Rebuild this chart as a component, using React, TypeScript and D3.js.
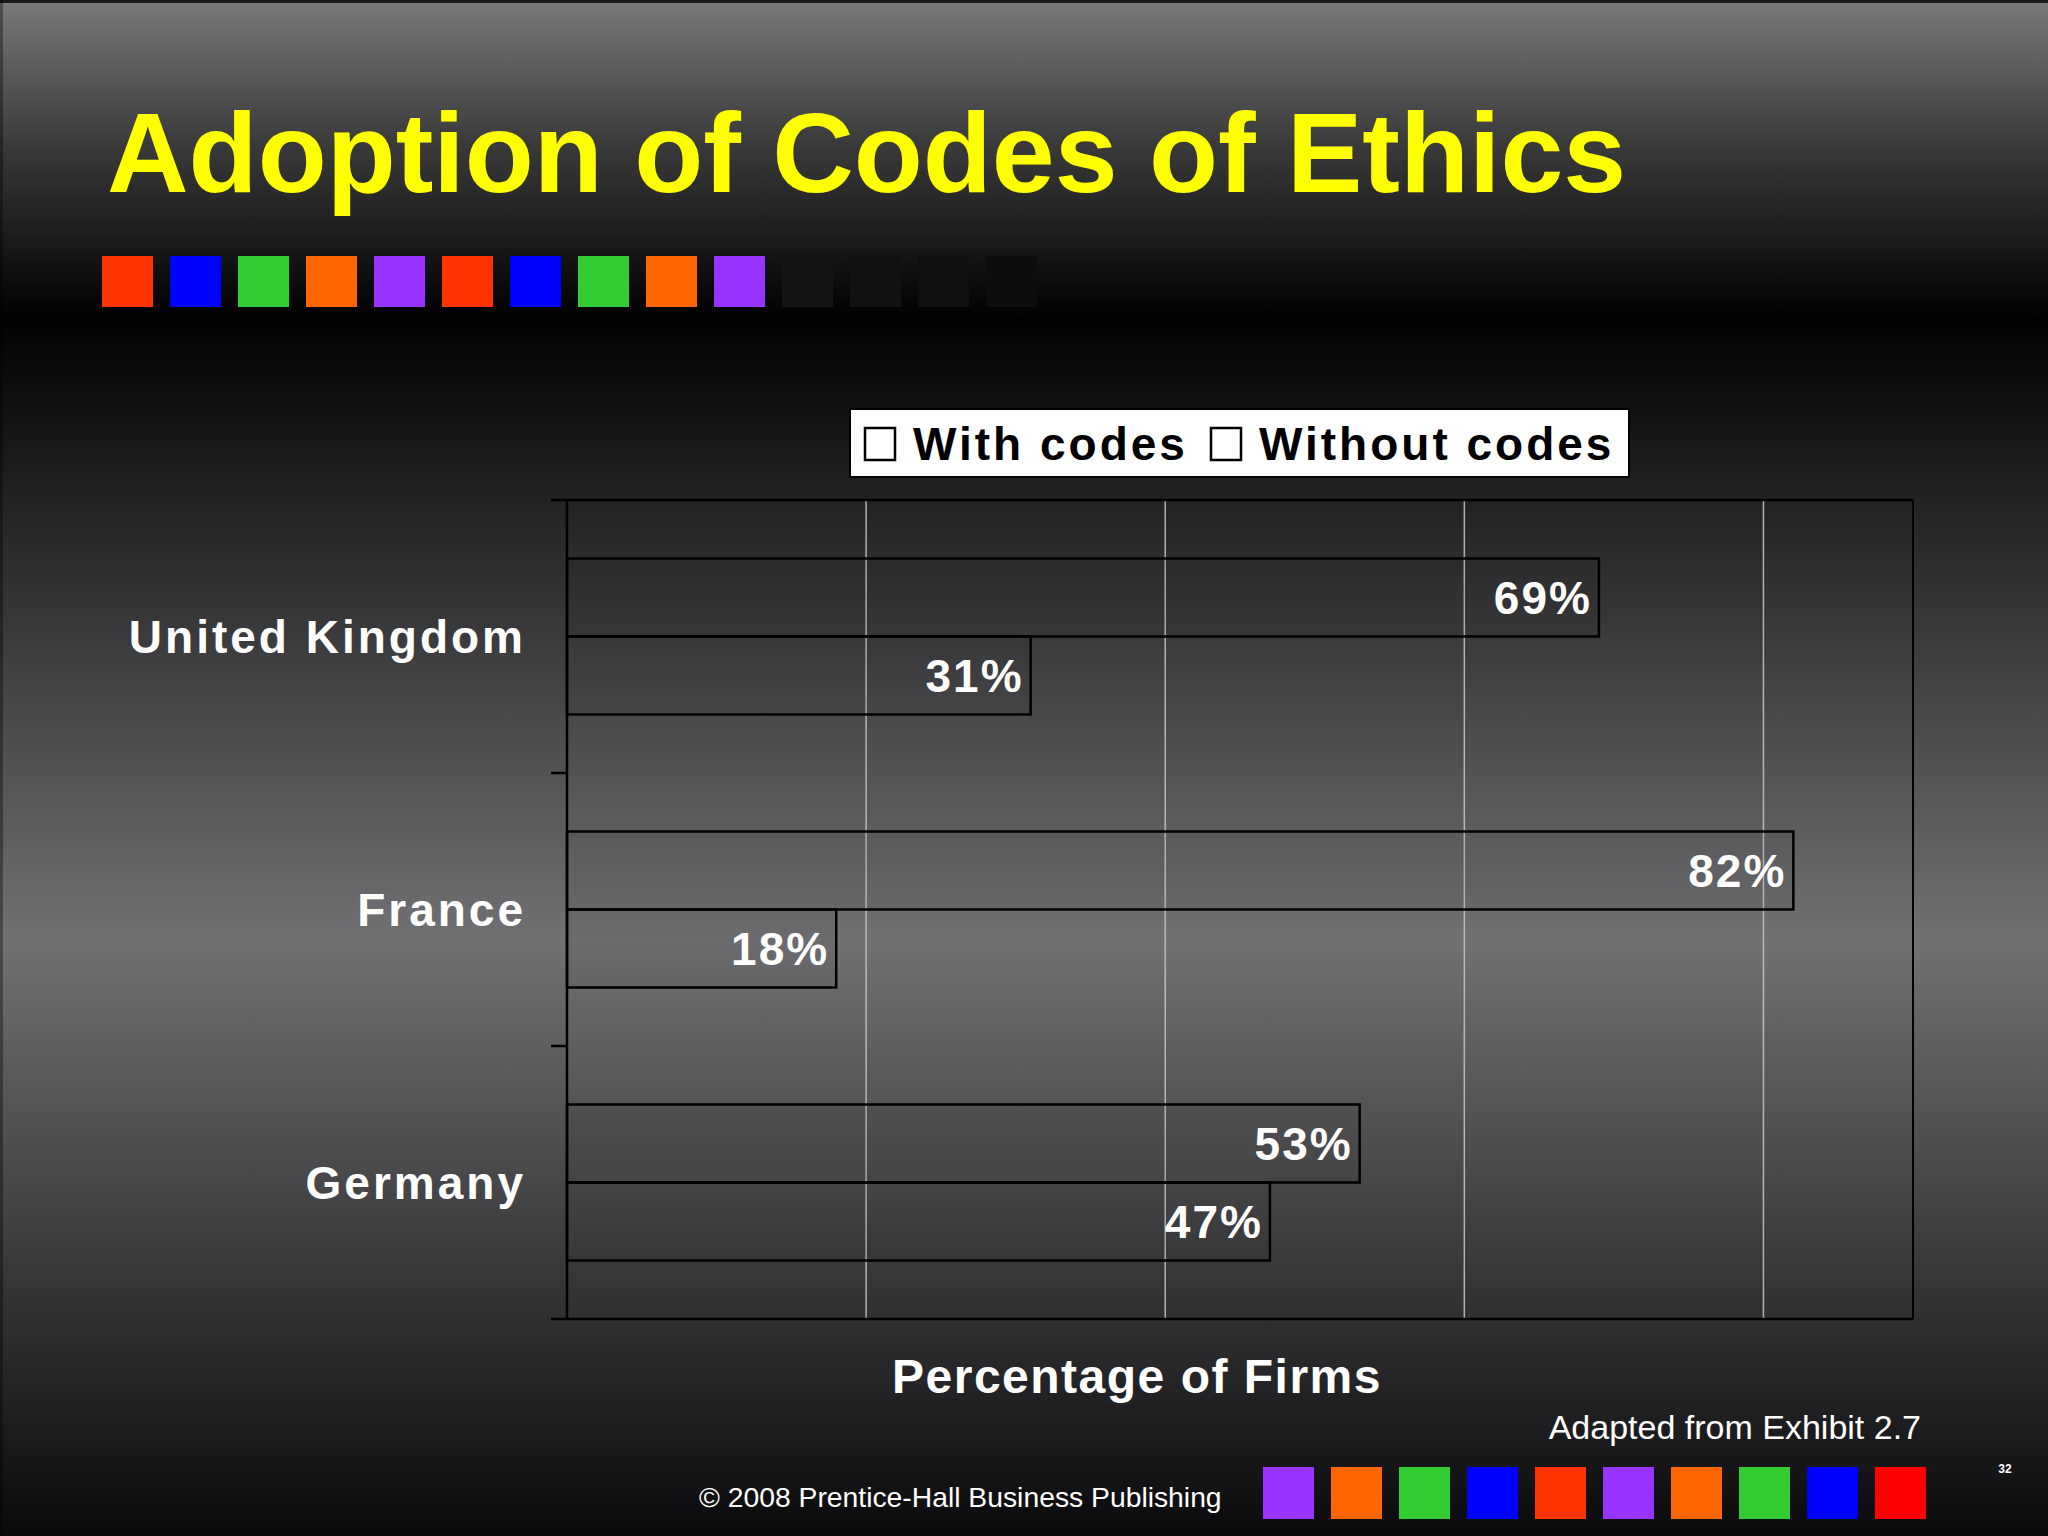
import * as d3 from 'd3'

const categories = ['United Kingdom', 'France', 'Germany']
const seriesNames = ['With codes', 'Without codes']
const withCodes = [69, 82, 53]
const withoutCodes = [31, 18, 47]
const gridTicks = [20, 40, 60, 80]
const xMax = 90

const topSquares = ['#FF3300', '#0000FF', '#33CC33', '#FF6600', '#9933FF', '#FF3300', '#0000FF', '#33CC33', '#FF6600', '#9933FF', '#151515', '#121212', '#101010', '#0d0d0d']
const bottomSquares = ['#9933FF', '#FF6600', '#33CC33', '#0000FF', '#FF3300', '#9933FF', '#FF6600', '#33CC33', '#0000FF', '#FF0000']

const W = 2048
const H = 1536
const font = '"Liberation Sans", Arial, Helvetica, sans-serif'

const App = () => {
    // plot frame
    const left = 567, right = 1913, top = 500, bottom = 1319

    const x = d3.scaleLinear().domain([0, xMax]).range([left, right])
    const y = d3.scaleBand().domain(categories).range([top, bottom])
    const inner = d3.scaleBand().domain(seriesNames).range([0, y.bandwidth()]).paddingInner(0).paddingOuter(0.75)

    const rows = categories.map((c, i) => ({ cat: c, vals: [withCodes[i], withoutCodes[i]] }))

    const sq = d3.scaleLinear().domain([0, 1]).range([0, 68])

    return (
        <div style={{ position: 'absolute', left: 0, top: 0 }}>
            <svg width={W} height={H} style={{ display: 'block' }}>
                <defs>
                    <linearGradient id="hdr" x1="0" y1="0" x2="0" y2="1">
                        <stop offset="0" stopColor="#7a7a7a" />
                        <stop offset="0.45" stopColor="#3a3a3a" />
                        <stop offset="1" stopColor="#000000" />
                    </linearGradient>
                    <linearGradient id="body" x1="0" y1="0" x2="0" y2="1">
                        <stop offset="0" stopColor="#020203" />
                        <stop offset="0.51" stopColor="#717073" />
                        <stop offset="1" stopColor="#0a090c" />
                    </linearGradient>
                </defs>

                {/* background */}
                <rect x={0} y={0} width={W} height={320} fill="url(#hdr)" />
                <rect x={0} y={320} width={W} height={H - 320} fill="url(#body)" />
                <rect x={0} y={0} width={W} height={3} fill="#1a1a1a" />
                <rect x={0} y={0} width={3} height={H} fill="#000" opacity={0.35} />

                {/* title */}
                <text x={107} y={192} fill="#FFFF00" fontFamily={font} fontWeight="bold" fontSize={113}>
                    Adoption of Codes of Ethics
                </text>

                {/* decorative squares */}
                {topSquares.map((c, i) => (
                    <rect key={'t' + i} x={102 + sq(i)} y={256} width={51} height={51} fill={c} />
                ))}
                {bottomSquares.map((c, i) => (
                    <rect key={'b' + i} x={1263 + sq(i)} y={1467} width={51} height={52} fill={c} />
                ))}

                {/* gridlines */}
                {gridTicks.map(t => (
                    <line key={t} x1={x(t)} x2={x(t)} y1={top} y2={bottom} stroke="#c8c8c8" strokeWidth={1.5} opacity={0.85} />
                ))}

                {/* bars */}
                {rows.map(r => (
                    <g key={r.cat} transform={`translate(0,${y(r.cat)})`}>
                        {r.vals.map((v, j) => (
                            <g key={j}>
                                <rect x={x(0)} y={inner(seriesNames[j])} width={x(v) - x(0)} height={inner.bandwidth()}
                                    fill="rgba(0,0,0,0.04)" stroke="#000" strokeWidth={2.5} />
                                <text x={x(v) - 7} y={inner(seriesNames[j]) + inner.bandwidth() / 2} dy="0.36em"
                                    textAnchor="end" fill="#fff" fontFamily={font} fontWeight="bold" fontSize={46} letterSpacing={2}>
                                    {v}%
                                </text>
                            </g>
                        ))}
                    </g>
                ))}

                {/* frame */}
                <line x1={551} x2={right} y1={top} y2={top} stroke="#000" strokeWidth={2.5} />
                <line x1={551} x2={right} y1={bottom} y2={bottom} stroke="#000" strokeWidth={2.5} />
                <line x1={left} x2={left} y1={top} y2={bottom} stroke="#000" strokeWidth={2.5} />
                <line x1={right} x2={right} y1={top} y2={bottom} stroke="#000" strokeWidth={2} />
                {categories.slice(1).map(c => (
                    <line key={c} x1={551} x2={left} y1={y(c)} y2={y(c)} stroke="#000" strokeWidth={2.5} />
                ))}

                {/* category labels */}
                {categories.map(c => (
                    <text key={c} x={526} y={y(c) + y.bandwidth() / 2} dy="0.36em" textAnchor="end"
                        fill="#fff" fontFamily={font} fontWeight="bold" fontSize={46} letterSpacing={3}>
                        {c}
                    </text>
                ))}

                {/* legend */}
                <rect x={850} y={409} width={779} height={68} fill="#fff" stroke="#000" strokeWidth={2} />
                <rect x={865} y={428} width={30} height={32} fill="#fff" stroke="#000" strokeWidth={2.5} />
                <text x={913} y={460} fill="#000" fontFamily={font} fontWeight="bold" fontSize={46} letterSpacing={3}>{seriesNames[0]}</text>
                <rect x={1211} y={428} width={30} height={32} fill="#fff" stroke="#000" strokeWidth={2.5} />
                <text x={1259} y={460} fill="#000" fontFamily={font} fontWeight="bold" fontSize={46} letterSpacing={3}>{seriesNames[1]}</text>

                {/* axis title */}
                <text x={892} y={1393} fill="#fff" fontFamily={font} fontWeight="bold" fontSize={48} letterSpacing={1.5}>
                    Percentage of Firms
                </text>

                {/* footer */}
                <text x={1921} y={1439} textAnchor="end" fill="#fff" fontFamily={font} fontSize={34}>
                    Adapted from Exhibit 2.7
                </text>
                <text x={699} y={1507} fill="#fff" fontFamily={font} fontSize={28.3}>
                    © 2008 Prentice-Hall Business Publishing
                </text>
                <text x={2005} y={1473} textAnchor="middle" fill="#fff" fontFamily={font} fontWeight="bold" fontSize={12}>
                    32
                </text>
            </svg>
        </div>
    )
}

export default App
